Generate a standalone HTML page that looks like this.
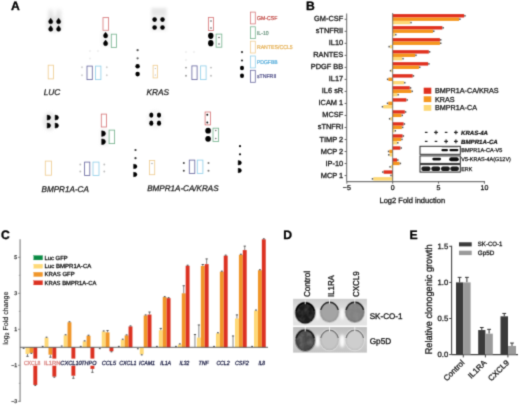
<!DOCTYPE html><html><head><meta charset="utf-8"><title>Figure</title><style>html,body{margin:0;padding:0;background:#fff;overflow:hidden;}svg{display:block;}text{font-family:'Liberation Sans', Arial, sans-serif;text-rendering:geometricPrecision;}</style></head><body>
<svg width="520" height="405" viewBox="0 0 520 405">
<defs><filter id="blur1" x="-50%" y="-50%" width="200%" height="200%"><feGaussianBlur stdDeviation="1.6"/></filter><filter id="blur2" x="-50%" y="-50%" width="200%" height="200%"><feGaussianBlur stdDeviation="0.45"/></filter><filter id="blur4" x="-80%" y="-50%" width="260%" height="200%"><feGaussianBlur stdDeviation="1.4 2.2"/></filter><filter id="blur3" x="-50%" y="-50%" width="200%" height="200%"><feGaussianBlur stdDeviation="0.8"/></filter></defs>
<defs><filter id="gblur" x="0" y="0" width="520" height="405" filterUnits="userSpaceOnUse" color-interpolation-filters="sRGB"><feConvolveMatrix order="3" kernelMatrix="0.0225 0.105 0.0225 0.105 0.49 0.105 0.0225 0.105 0.0225" edgeMode="duplicate"/></filter></defs>
<g filter="url(#gblur)">
<rect width="520" height="405" fill="#fff"/>
<text x="10.9" y="9.5" font-size="12.2" fill="#000" text-anchor="start" font-weight="bold" font-style="normal"  stroke="#000" stroke-width="0.3">A</text>
<text x="306.1" y="9.6" font-size="12.2" fill="#000" text-anchor="start" font-weight="bold" font-style="normal"  stroke="#000" stroke-width="0.3">B</text>
<text x="0.9" y="238.9" font-size="12.2" fill="#000" text-anchor="start" font-weight="bold" font-style="normal"  stroke="#000" stroke-width="0.3">C</text>
<text x="283.3" y="238.7" font-size="12.2" fill="#000" text-anchor="start" font-weight="bold" font-style="normal"  stroke="#000" stroke-width="0.3">D</text>
<text x="409.6" y="239" font-size="12.2" fill="#000" text-anchor="start" font-weight="bold" font-style="normal"  stroke="#000" stroke-width="0.3">E</text>
<ellipse cx="54.5" cy="24.5" rx="8.5" ry="8.5" fill="#dadada" opacity="0.5" filter="url(#blur1)"/>
<rect x="48" y="10" width="5.5" height="12" fill="#c4c4c4" opacity="0.4" filter="url(#blur4)"/>
<rect x="56" y="10" width="5.5" height="12" fill="#c4c4c4" opacity="0.4" filter="url(#blur4)"/>
<path d="M 50.7 18.2 C 51.3 19.2 52.75 20.4 52.75 21.7 A 2.05 2.15 0 0 1 48.65 21.7 C 48.65 20.4 50.1 19.2 50.7 18.2 Z" fill="#000" stroke="#000" stroke-width="0.5"/>
<path d="M 50.7 25.7 C 51.3 26.7 52.75 27.9 52.75 29.2 A 2.05 2.15 0 0 1 48.65 29.2 C 48.65 27.9 50.1 26.7 50.7 25.7 Z" fill="#000" stroke="#000" stroke-width="0.5"/>
<path d="M 58.6 18.2 C 59.2 19.2 60.65 20.4 60.65 21.7 A 2.05 2.15 0 0 1 56.55 21.7 C 56.55 20.4 58 19.2 58.6 18.2 Z" fill="#000" stroke="#000" stroke-width="0.5"/>
<path d="M 58.6 25.7 C 59.2 26.7 60.65 27.9 60.65 29.2 A 2.05 2.15 0 0 1 56.55 29.2 C 56.55 27.9 58 26.7 58.6 25.7 Z" fill="#000" stroke="#000" stroke-width="0.5"/>
<rect x="103" y="17.6" width="5.6" height="12.7" fill="none" stroke="#d77a7c" stroke-width="0.85" />
<rect x="101" y="31" width="9" height="15" fill="#e6e6e6" opacity="0.4" filter="url(#blur1)"/>
<path d="M 105.6 32.3 C 106.2 33.3 107.7 34.4 107.7 35.7 A 2.1 2.21 0 0 1 103.5 35.7 C 103.5 34.4 105 33.3 105.6 32.3 Z" fill="#000" stroke="#000" stroke-width="0.5"/>
<path d="M 105.6 40.1 C 106.2 41.1 107.7 42.2 107.7 43.5 A 2.1 2.21 0 0 1 103.5 43.5 C 103.5 42.2 105 41.1 105.6 40.1 Z" fill="#000" stroke="#000" stroke-width="0.5"/>
<rect x="111.3" y="34.2" width="5.2" height="13.2" fill="none" stroke="#7ab592" stroke-width="0.85" />
<rect x="48.2" y="65.2" width="5.3" height="13.7" fill="none" stroke="#efce95" stroke-width="0.85" />
<rect x="87" y="66.1" width="5.3" height="13.5" fill="none" stroke="#6c6ca2" stroke-width="0.85" />
<rect x="95.5" y="66.1" width="5.4" height="13.5" fill="none" stroke="#95d0ea" stroke-width="0.85" />
<ellipse cx="82" cy="67.3" rx="0.95" ry="0.95" fill="#d0d0d0" />
<ellipse cx="82" cy="75.3" rx="0.95" ry="0.95" fill="#d0d0d0" />
<ellipse cx="106.8" cy="67.3" rx="0.95" ry="0.95" fill="#d0d0d0" />
<ellipse cx="106.8" cy="75.3" rx="0.95" ry="0.95" fill="#d0d0d0" />
<ellipse cx="90" cy="51" rx="0.95" ry="0.95" fill="#ececec" />
<ellipse cx="98" cy="51" rx="0.95" ry="0.95" fill="#ececec" />
<ellipse cx="90" cy="58.5" rx="0.95" ry="0.95" fill="#ececec" />
<ellipse cx="137.6" cy="50.2" rx="1.15" ry="1.15" fill="#555" />
<ellipse cx="137.6" cy="58.3" rx="1.15" ry="1.15" fill="#666" />
<ellipse cx="137.6" cy="66.2" rx="2.2" ry="2.3" fill="#000" />
<ellipse cx="137.6" cy="74.1" rx="2.2" ry="2.3" fill="#000" />
<text x="43.7" y="94.8" font-size="8.3" fill="#1a1a1a" text-anchor="start" font-weight="normal" font-style="italic"  textLength="16.6" lengthAdjust="spacingAndGlyphs" stroke="#1a1a1a" stroke-width="0.25">LUC</text>
<rect x="151" y="8" width="16" height="23" fill="#dcdcdc" opacity="0.4" filter="url(#blur1)"/>
<rect x="152" y="8" width="14" height="7" fill="#d0d0d0" opacity="0.3" filter="url(#blur1)"/>
<ellipse cx="154.6" cy="19.6" rx="2.25" ry="2.35" fill="#000" />
<ellipse cx="154.6" cy="27.5" rx="2.25" ry="2.35" fill="#000" />
<ellipse cx="162.5" cy="19.6" rx="2.25" ry="2.35" fill="#000" />
<ellipse cx="162.5" cy="27.5" rx="2.25" ry="2.35" fill="#000" />
<rect x="208.4" y="17.4" width="5.1" height="13.1" fill="none" stroke="#d77a7c" stroke-width="0.85" />
<ellipse cx="211" cy="21" rx="0.75" ry="0.75" fill="#444" />
<ellipse cx="211" cy="28" rx="0.75" ry="0.75" fill="#444" />
<ellipse cx="210.8" cy="35.8" rx="2.7" ry="3.1" fill="#000" />
<ellipse cx="210.8" cy="43.2" rx="2.7" ry="3.1" fill="#000" />
<rect x="216.1" y="34.1" width="5.7" height="13.1" fill="none" stroke="#7ab592" stroke-width="0.85" />
<ellipse cx="219" cy="37.5" rx="0.75" ry="0.75" fill="#555" />
<ellipse cx="219" cy="44" rx="0.75" ry="0.75" fill="#555" />
<rect x="153.1" y="65.3" width="4.3" height="12.6" fill="none" stroke="#efce95" stroke-width="0.85" />
<ellipse cx="155.3" cy="68.5" rx="0.6" ry="0.6" fill="#aaa" />
<ellipse cx="155.3" cy="75" rx="0.6" ry="0.6" fill="#aaa" />
<rect x="191.9" y="65.9" width="5.2" height="13.7" fill="none" stroke="#6c6ca2" stroke-width="0.85" />
<rect x="200.6" y="65.9" width="5.5" height="13.7" fill="none" stroke="#95d0ea" stroke-width="0.85" />
<ellipse cx="186" cy="67.6" rx="0.95" ry="0.95" fill="#999" />
<ellipse cx="186" cy="75.7" rx="0.95" ry="0.95" fill="#999" />
<ellipse cx="211" cy="67.6" rx="0.95" ry="0.95" fill="#bbb" />
<ellipse cx="211" cy="75.7" rx="0.95" ry="0.95" fill="#bbb" />
<ellipse cx="186" cy="52" rx="0.95" ry="0.95" fill="#ececec" />
<ellipse cx="194" cy="52" rx="0.95" ry="0.95" fill="#ececec" />
<ellipse cx="186" cy="60" rx="0.95" ry="0.95" fill="#ececec" />
<ellipse cx="242" cy="52.1" rx="1.1" ry="1.1" fill="#333" />
<ellipse cx="242" cy="60.5" rx="1.1" ry="1.1" fill="#333" />
<ellipse cx="242" cy="68" rx="2" ry="2.2" fill="#000" />
<ellipse cx="242" cy="75.7" rx="2" ry="2.2" fill="#000" />
<text x="146.5" y="94.8" font-size="8.3" fill="#1a1a1a" text-anchor="start" font-weight="normal" font-style="italic"  textLength="22.6" lengthAdjust="spacingAndGlyphs" stroke="#1a1a1a" stroke-width="0.25">KRAS</text>
<rect x="250.4" y="12.1" width="4.9" height="11.8" fill="none" stroke="#d77a7c" stroke-width="0.8" />
<text x="256.9" y="19.9" font-size="5.6" fill="#c4504c" text-anchor="start" font-weight="normal" font-style="normal"  textLength="20.4" lengthAdjust="spacingAndGlyphs" stroke="#c4504c" stroke-width="0.22">GM-CSF</text>
<rect x="250.4" y="26.8" width="4.9" height="11.8" fill="none" stroke="#7ab592" stroke-width="0.8" />
<text x="256.9" y="34.6" font-size="5.6" fill="#6a957f" text-anchor="start" font-weight="normal" font-style="normal"  textLength="11.8" lengthAdjust="spacingAndGlyphs" stroke="#6a957f" stroke-width="0.22">IL-10</text>
<rect x="250.4" y="41.2" width="4.9" height="11.8" fill="none" stroke="#efce95" stroke-width="0.8" />
<text x="256.9" y="49" font-size="5.6" fill="#e6b258" text-anchor="start" font-weight="normal" font-style="normal"  textLength="35.8" lengthAdjust="spacingAndGlyphs" stroke="#e6b258" stroke-width="0.22">RANTES/CCL5</text>
<rect x="250.4" y="56" width="4.9" height="11.9" fill="none" stroke="#95d0ea" stroke-width="0.8" />
<text x="256.9" y="63.85" font-size="5.6" fill="#5cb0dc" text-anchor="start" font-weight="normal" font-style="normal"  textLength="20.8" lengthAdjust="spacingAndGlyphs" stroke="#5cb0dc" stroke-width="0.22">PDGFBB</text>
<rect x="250.4" y="70.3" width="4.9" height="12" fill="none" stroke="#6c6ca2" stroke-width="0.8" />
<text x="256.9" y="78.2" font-size="5.6" fill="#4f4f88" text-anchor="start" font-weight="normal" font-style="normal"  textLength="19.4" lengthAdjust="spacingAndGlyphs" stroke="#4f4f88" stroke-width="0.22">sTNFRII</text>
<ellipse cx="49.5" cy="121.5" rx="6.5" ry="9.5" fill="#d8d8d8" opacity="0.5" filter="url(#blur1)"/>
<path d="M 47.2 115.1 A 3.4 2.5 0 0 1 47.2 120.1 Z" fill="#000" stroke="#000" stroke-width="0.5"/>
<path d="M 47.2 123.1 A 3.4 2.5 0 0 1 47.2 128.1 Z" fill="#000" stroke="#000" stroke-width="0.5"/>
<path d="M 55.1 115.1 A 3.4 2.5 0 0 1 55.1 120.1 Z" fill="#000" stroke="#000" stroke-width="0.5"/>
<path d="M 55.1 123.1 A 3.4 2.5 0 0 1 55.1 128.1 Z" fill="#000" stroke="#000" stroke-width="0.5"/>
<rect x="101.3" y="114.1" width="5.2" height="12.9" fill="none" stroke="#d77a7c" stroke-width="0.85" />
<rect x="100" y="129" width="8" height="17" fill="#e4e4e4" opacity="0.4" filter="url(#blur1)"/>
<path d="M 101.7 130.8 A 3.8 2.8 0 0 1 101.7 136.4 Z" fill="#000" stroke="#000" stroke-width="0.5"/>
<path d="M 101.7 138.9 A 3.8 2.8 0 0 1 101.7 144.5 Z" fill="#000" stroke="#000" stroke-width="0.5"/>
<rect x="109.1" y="130.1" width="5.5" height="13.5" fill="none" stroke="#7ab592" stroke-width="0.85" />
<rect x="45.3" y="161.1" width="6.2" height="14.1" fill="none" stroke="#efce95" stroke-width="0.85" />
<rect x="84.6" y="162.1" width="5.2" height="13.4" fill="none" stroke="#6c6ca2" stroke-width="0.85" />
<rect x="93" y="162.1" width="6" height="13.4" fill="none" stroke="#95d0ea" stroke-width="0.85" />
<ellipse cx="80.3" cy="164.5" rx="0.95" ry="0.95" fill="#bdbdbd" />
<ellipse cx="80.3" cy="171.5" rx="0.95" ry="0.95" fill="#bdbdbd" />
<ellipse cx="104.3" cy="164.5" rx="0.95" ry="0.95" fill="#bdbdbd" />
<ellipse cx="104.3" cy="171.5" rx="0.95" ry="0.95" fill="#bdbdbd" />
<ellipse cx="135.5" cy="150" rx="1.1" ry="1.1" fill="#333" />
<ellipse cx="135.5" cy="158.2" rx="1.1" ry="1.1" fill="#333" />
<path d="M 133.65 164.2 A 3.3 2.2 0 0 1 133.65 168.6 Z" fill="#000" stroke="#000" stroke-width="0.5"/>
<path d="M 133.65 172.3 A 3.3 2.2 0 0 1 133.65 176.7 Z" fill="#000" stroke="#000" stroke-width="0.5"/>
<text x="41.5" y="192" font-size="8.2" fill="#1a1a1a" text-anchor="start" font-weight="normal" font-style="italic"  textLength="47.4" lengthAdjust="spacingAndGlyphs" stroke="#1a1a1a" stroke-width="0.25">BMPR1A-CA</text>
<ellipse cx="155.2" cy="119.2" rx="8.5" ry="9.5" fill="#e8e8e8" opacity="0.4" filter="url(#blur1)"/>
<ellipse cx="151.3" cy="115.1" rx="2.05" ry="2.6" fill="#000" />
<ellipse cx="151.3" cy="123.2" rx="2.05" ry="2.6" fill="#000" />
<ellipse cx="159" cy="115.1" rx="2.05" ry="2.6" fill="#000" />
<ellipse cx="159" cy="123.2" rx="2.05" ry="2.6" fill="#000" />
<rect x="205.1" y="112" width="5.4" height="12.9" fill="none" stroke="#d77a7c" stroke-width="0.85" />
<ellipse cx="207.3" cy="114.8" rx="0.95" ry="0.95" fill="#111" />
<ellipse cx="207.3" cy="122.5" rx="0.95" ry="0.95" fill="#111" />
<ellipse cx="208.1" cy="130.7" rx="2.8" ry="2.9" fill="#000" />
<ellipse cx="208.1" cy="138.8" rx="2.8" ry="2.9" fill="#000" />
<rect x="213" y="128.2" width="5.6" height="13.3" fill="none" stroke="#7ab592" stroke-width="0.85" />
<ellipse cx="215.8" cy="130.5" rx="0.7" ry="0.7" fill="#666" />
<ellipse cx="215.8" cy="138.5" rx="0.7" ry="0.7" fill="#666" />
<rect x="149.4" y="160.5" width="5.3" height="14.2" fill="none" stroke="#efce95" stroke-width="0.85" />
<ellipse cx="152" cy="163.5" rx="0.65" ry="0.65" fill="#999" />
<rect x="189.3" y="160.1" width="5.5" height="13.3" fill="none" stroke="#6c6ca2" stroke-width="0.85" />
<rect x="197.3" y="160.1" width="5.6" height="13.3" fill="none" stroke="#95d0ea" stroke-width="0.85" />
<ellipse cx="183.8" cy="163" rx="1" ry="1" fill="#444" />
<ellipse cx="183.8" cy="170.8" rx="1" ry="1" fill="#444" />
<ellipse cx="208.5" cy="163" rx="1" ry="1" fill="#777" />
<ellipse cx="208.5" cy="170.8" rx="1" ry="1" fill="#777" />
<ellipse cx="240" cy="146.2" rx="1.1" ry="1.1" fill="#111" />
<ellipse cx="240" cy="154.3" rx="1.1" ry="1.1" fill="#111" />
<path d="M 238.2 160.6 A 3.2 2.2 0 0 1 238.2 165 Z" fill="#000" stroke="#000" stroke-width="0.5"/>
<path d="M 238.2 168.3 A 3.2 2.2 0 0 1 238.2 172.7 Z" fill="#000" stroke="#000" stroke-width="0.5"/>
<text x="147.2" y="191" font-size="8.1" fill="#1a1a1a" text-anchor="start" font-weight="normal" font-style="italic"  textLength="71.4" lengthAdjust="spacingAndGlyphs" stroke="#1a1a1a" stroke-width="0.25">BMPR1A-CA/KRAS</text>
<line x1="344.6" y1="19.3" x2="346.7" y2="19.3" stroke="#555" stroke-width="0.9" />
<text x="343.2" y="21.3" font-size="7.4" fill="#1a1a1a" text-anchor="end" font-weight="normal" font-style="normal"  stroke="#1a1a1a" stroke-width="0.32">GM-CSF</text>
<rect x="392.7" y="14.1" width="71.43" height="3.4" fill="#e0301e" />
<rect x="464.23" y="15" width="1.4" height="1.6" fill="#555" />
<rect x="392.7" y="17.5" width="66.39" height="3.4" fill="#f5961e" />
<rect x="459.19" y="18.4" width="1.4" height="1.6" fill="#555" />
<rect x="392.7" y="20.9" width="17.51" height="3.4" fill="#fdd876" />
<rect x="410.31" y="21.8" width="1.4" height="1.6" fill="#555" />
<line x1="344.6" y1="31.32" x2="346.7" y2="31.32" stroke="#555" stroke-width="0.9" />
<text x="343.2" y="33.32" font-size="7.4" fill="#1a1a1a" text-anchor="end" font-weight="normal" font-style="normal"  stroke="#1a1a1a" stroke-width="0.32">sTNFRII</text>
<rect x="392.7" y="26.12" width="49.7" height="3.4" fill="#e0301e" />
<rect x="442.5" y="27.02" width="1.4" height="1.6" fill="#555" />
<rect x="392.7" y="29.52" width="40.26" height="3.4" fill="#f5961e" />
<rect x="433.06" y="30.42" width="1.4" height="1.6" fill="#555" />
<rect x="392.7" y="32.92" width="2.29" height="3.4" fill="#fdd876" />
<rect x="395.09" y="33.82" width="1.4" height="1.6" fill="#555" />
<line x1="344.6" y1="43.34" x2="346.7" y2="43.34" stroke="#555" stroke-width="0.9" />
<text x="343.2" y="45.34" font-size="7.4" fill="#1a1a1a" text-anchor="end" font-weight="normal" font-style="normal"  stroke="#1a1a1a" stroke-width="0.32">IL10</text>
<rect x="392.7" y="38.14" width="47.23" height="3.4" fill="#e0301e" />
<rect x="440.03" y="39.04" width="1.4" height="1.6" fill="#555" />
<rect x="392.7" y="41.54" width="47.23" height="3.4" fill="#f5961e" />
<rect x="440.03" y="42.44" width="1.4" height="1.6" fill="#555" />
<rect x="389.95" y="44.94" width="2.75" height="3.4" fill="#fdd876" />
<rect x="388.45" y="45.84" width="1.4" height="1.6" fill="#555" />
<line x1="344.6" y1="55.36" x2="346.7" y2="55.36" stroke="#555" stroke-width="0.9" />
<text x="343.2" y="57.36" font-size="7.4" fill="#1a1a1a" text-anchor="end" font-weight="normal" font-style="normal"  stroke="#1a1a1a" stroke-width="0.32">RANTES</text>
<rect x="392.7" y="50.16" width="36.13" height="3.4" fill="#e0301e" />
<rect x="428.93" y="51.06" width="1.4" height="1.6" fill="#555" />
<rect x="392.7" y="53.56" width="22.47" height="3.4" fill="#f5961e" />
<rect x="415.27" y="54.46" width="1.4" height="1.6" fill="#555" />
<rect x="392.7" y="56.96" width="9.54" height="3.4" fill="#fdd876" />
<rect x="402.34" y="57.86" width="1.4" height="1.6" fill="#555" />
<line x1="344.6" y1="67.38" x2="346.7" y2="67.38" stroke="#555" stroke-width="0.9" />
<text x="343.2" y="69.38" font-size="7.4" fill="#1a1a1a" text-anchor="end" font-weight="normal" font-style="normal"  stroke="#1a1a1a" stroke-width="0.32">PDGF BB</text>
<rect x="392.7" y="62.18" width="35.4" height="3.4" fill="#e0301e" />
<rect x="428.2" y="63.08" width="1.4" height="1.6" fill="#555" />
<rect x="392.7" y="65.58" width="26.23" height="3.4" fill="#f5961e" />
<rect x="419.03" y="66.48" width="1.4" height="1.6" fill="#555" />
<rect x="391.32" y="68.98" width="1.38" height="3.4" fill="#fdd876" />
<rect x="389.82" y="69.88" width="1.4" height="1.6" fill="#555" />
<line x1="344.6" y1="79.4" x2="346.7" y2="79.4" stroke="#555" stroke-width="0.9" />
<text x="343.2" y="81.4" font-size="7.4" fill="#1a1a1a" text-anchor="end" font-weight="normal" font-style="normal"  stroke="#1a1a1a" stroke-width="0.32">IL17</text>
<rect x="392.7" y="74.2" width="19.99" height="3.4" fill="#e0301e" />
<rect x="412.79" y="75.1" width="1.4" height="1.6" fill="#555" />
<rect x="388.39" y="77.6" width="4.31" height="3.4" fill="#f5961e" />
<rect x="386.89" y="78.5" width="1.4" height="1.6" fill="#555" />
<rect x="392.7" y="81" width="11.28" height="3.4" fill="#fdd876" />
<rect x="404.08" y="81.9" width="1.4" height="1.6" fill="#555" />
<line x1="344.6" y1="91.42" x2="346.7" y2="91.42" stroke="#555" stroke-width="0.9" />
<text x="343.2" y="93.42" font-size="7.4" fill="#1a1a1a" text-anchor="end" font-weight="normal" font-style="normal"  stroke="#1a1a1a" stroke-width="0.32">IL6 sR</text>
<rect x="392.7" y="86.22" width="17.06" height="3.4" fill="#e0301e" />
<rect x="409.86" y="87.12" width="1.4" height="1.6" fill="#555" />
<rect x="392.7" y="89.62" width="18.71" height="3.4" fill="#f5961e" />
<rect x="411.51" y="90.52" width="1.4" height="1.6" fill="#555" />
<rect x="392.7" y="93.02" width="4.68" height="3.4" fill="#fdd876" />
<rect x="397.48" y="93.92" width="1.4" height="1.6" fill="#555" />
<line x1="344.6" y1="103.44" x2="346.7" y2="103.44" stroke="#555" stroke-width="0.9" />
<text x="343.2" y="105.44" font-size="7.4" fill="#1a1a1a" text-anchor="end" font-weight="normal" font-style="normal"  stroke="#1a1a1a" stroke-width="0.32">ICAM 1</text>
<rect x="392.7" y="98.24" width="13.66" height="3.4" fill="#e0301e" />
<rect x="406.46" y="99.14" width="1.4" height="1.6" fill="#555" />
<rect x="388.3" y="101.64" width="4.4" height="3.4" fill="#f5961e" />
<rect x="386.8" y="102.54" width="1.4" height="1.6" fill="#555" />
<rect x="383.25" y="105.04" width="9.45" height="3.4" fill="#fdd876" />
<rect x="381.75" y="105.94" width="1.4" height="1.6" fill="#555" />
<line x1="344.6" y1="115.46" x2="346.7" y2="115.46" stroke="#555" stroke-width="0.9" />
<text x="343.2" y="117.46" font-size="7.4" fill="#1a1a1a" text-anchor="end" font-weight="normal" font-style="normal"  stroke="#1a1a1a" stroke-width="0.32">MCSF</text>
<rect x="392.7" y="110.26" width="12.1" height="3.4" fill="#e0301e" />
<rect x="404.9" y="111.16" width="1.4" height="1.6" fill="#555" />
<rect x="392.7" y="113.66" width="8.8" height="3.4" fill="#f5961e" />
<rect x="401.6" y="114.56" width="1.4" height="1.6" fill="#555" />
<rect x="390.41" y="117.06" width="2.29" height="3.4" fill="#fdd876" />
<rect x="388.91" y="117.96" width="1.4" height="1.6" fill="#555" />
<line x1="344.6" y1="127.48" x2="346.7" y2="127.48" stroke="#555" stroke-width="0.9" />
<text x="343.2" y="129.48" font-size="7.4" fill="#1a1a1a" text-anchor="end" font-weight="normal" font-style="normal"  stroke="#1a1a1a" stroke-width="0.32">sTNFRI</text>
<rect x="392.7" y="122.28" width="10.91" height="3.4" fill="#e0301e" />
<rect x="403.71" y="123.18" width="1.4" height="1.6" fill="#555" />
<rect x="392.7" y="125.68" width="9.17" height="3.4" fill="#f5961e" />
<rect x="401.97" y="126.58" width="1.4" height="1.6" fill="#555" />
<rect x="392.7" y="129.08" width="1.83" height="3.4" fill="#fdd876" />
<rect x="394.63" y="129.98" width="1.4" height="1.6" fill="#555" />
<line x1="344.6" y1="139.5" x2="346.7" y2="139.5" stroke="#555" stroke-width="0.9" />
<text x="343.2" y="141.5" font-size="7.4" fill="#1a1a1a" text-anchor="end" font-weight="normal" font-style="normal"  stroke="#1a1a1a" stroke-width="0.32">TIMP 2</text>
<rect x="392.7" y="134.3" width="9.9" height="3.4" fill="#e0301e" />
<rect x="402.7" y="135.2" width="1.4" height="1.6" fill="#555" />
<rect x="392.7" y="137.7" width="8.44" height="3.4" fill="#f5961e" />
<rect x="401.24" y="138.6" width="1.4" height="1.6" fill="#555" />
<rect x="392.7" y="141.1" width="4.31" height="3.4" fill="#fdd876" />
<rect x="397.11" y="142" width="1.4" height="1.6" fill="#555" />
<line x1="344.6" y1="151.52" x2="346.7" y2="151.52" stroke="#555" stroke-width="0.9" />
<text x="343.2" y="153.52" font-size="7.4" fill="#1a1a1a" text-anchor="end" font-weight="normal" font-style="normal"  stroke="#1a1a1a" stroke-width="0.32">MCP 2</text>
<rect x="392.7" y="146.32" width="7.7" height="3.4" fill="#e0301e" />
<rect x="400.5" y="147.22" width="1.4" height="1.6" fill="#555" />
<rect x="389.31" y="149.72" width="3.39" height="3.4" fill="#f5961e" />
<rect x="387.81" y="150.62" width="1.4" height="1.6" fill="#555" />
<rect x="389.58" y="153.12" width="3.12" height="3.4" fill="#fdd876" />
<rect x="388.08" y="154.02" width="1.4" height="1.6" fill="#555" />
<line x1="344.6" y1="163.54" x2="346.7" y2="163.54" stroke="#555" stroke-width="0.9" />
<text x="343.2" y="165.54" font-size="7.4" fill="#1a1a1a" text-anchor="end" font-weight="normal" font-style="normal"  stroke="#1a1a1a" stroke-width="0.32">IP-10</text>
<rect x="392.7" y="158.34" width="4.31" height="3.4" fill="#e0301e" />
<rect x="397.11" y="159.24" width="1.4" height="1.6" fill="#555" />
<rect x="392.7" y="161.74" width="6.88" height="3.4" fill="#f5961e" />
<rect x="399.68" y="162.64" width="1.4" height="1.6" fill="#555" />
<rect x="390.87" y="165.14" width="1.83" height="3.4" fill="#fdd876" />
<rect x="389.37" y="166.04" width="1.4" height="1.6" fill="#555" />
<line x1="344.6" y1="175.56" x2="346.7" y2="175.56" stroke="#555" stroke-width="0.9" />
<text x="343.2" y="177.56" font-size="7.4" fill="#1a1a1a" text-anchor="end" font-weight="normal" font-style="normal"  stroke="#1a1a1a" stroke-width="0.32">MCP 1</text>
<rect x="383.62" y="170.36" width="9.08" height="3.4" fill="#e0301e" />
<rect x="382.12" y="171.26" width="1.4" height="1.6" fill="#555" />
<rect x="391.78" y="173.76" width="0.92" height="3.4" fill="#f5961e" />
<rect x="390.28" y="174.66" width="1.4" height="1.6" fill="#555" />
<rect x="373.26" y="177.16" width="19.44" height="3.4" fill="#fdd876" />
<rect x="371.76" y="178.06" width="1.4" height="1.6" fill="#555" />
<line x1="346.7" y1="13.5" x2="346.7" y2="181.7" stroke="#666" stroke-width="1" />
<line x1="346.7" y1="181.7" x2="485" y2="181.7" stroke="#555" stroke-width="1" />
<line x1="392.7" y1="13" x2="392.7" y2="181.7" stroke="#555" stroke-width="0.8" />
<line x1="346.85" y1="181.7" x2="346.85" y2="183.7" stroke="#444" stroke-width="0.8" />
<text x="346.85" y="189.9" font-size="7" fill="#1a1a1a" text-anchor="middle" font-weight="normal" font-style="normal"  stroke="#1a1a1a" stroke-width="0.3">&#8722;5</text>
<line x1="392.7" y1="181.7" x2="392.7" y2="183.7" stroke="#444" stroke-width="0.8" />
<text x="392.7" y="189.9" font-size="7" fill="#1a1a1a" text-anchor="middle" font-weight="normal" font-style="normal"  stroke="#1a1a1a" stroke-width="0.3">0</text>
<line x1="438.55" y1="181.7" x2="438.55" y2="183.7" stroke="#444" stroke-width="0.8" />
<text x="438.55" y="189.9" font-size="7" fill="#1a1a1a" text-anchor="middle" font-weight="normal" font-style="normal"  stroke="#1a1a1a" stroke-width="0.3">5</text>
<line x1="484.4" y1="181.7" x2="484.4" y2="183.7" stroke="#444" stroke-width="0.8" />
<text x="484.4" y="189.9" font-size="7" fill="#1a1a1a" text-anchor="middle" font-weight="normal" font-style="normal"  stroke="#1a1a1a" stroke-width="0.3">10</text>
<text x="379.5" y="203.2" font-size="7.6" fill="#1a1a1a" text-anchor="start" font-weight="normal" font-style="normal"  textLength="65.6" lengthAdjust="spacingAndGlyphs" stroke="#1a1a1a" stroke-width="0.3">Log2 Fold induction</text>
<rect x="423.7" y="87.7" width="7.6" height="6.1" fill="#e0301e" />
<text x="435" y="93.25" font-size="7.2" fill="#1a1a1a" text-anchor="start" font-weight="normal" font-style="normal"  stroke="#1a1a1a" stroke-width="0.3">BMPR1A-CA/KRAS</text>
<rect x="423.7" y="96.3" width="7.6" height="5.8" fill="#f5961e" />
<text x="435" y="101.7" font-size="7.2" fill="#1a1a1a" text-anchor="start" font-weight="normal" font-style="normal"  stroke="#1a1a1a" stroke-width="0.3">KRAS</text>
<rect x="423.7" y="105" width="7.6" height="5.8" fill="#fdd876" />
<text x="435" y="110.4" font-size="7.2" fill="#1a1a1a" text-anchor="start" font-weight="normal" font-style="normal"  stroke="#1a1a1a" stroke-width="0.3">BMPR1A-CA</text>
<rect x="424.9" y="131.8" width="2.6" height="1.2" fill="#222" />
<rect x="424.9" y="140.8" width="2.6" height="1.2" fill="#222" />
<rect x="434.1" y="131.8" width="3.8" height="1.2" fill="#222" />
<rect x="435.4" y="130.5" width="1.2" height="3.8" fill="#222" />
<rect x="434.7" y="140.8" width="2.6" height="1.2" fill="#222" />
<rect x="444.8" y="131.8" width="2.6" height="1.2" fill="#222" />
<rect x="444.2" y="140.8" width="3.8" height="1.2" fill="#222" />
<rect x="445.5" y="139.5" width="1.2" height="3.8" fill="#222" />
<rect x="454" y="131.8" width="3.8" height="1.2" fill="#222" />
<rect x="455.3" y="130.5" width="1.2" height="3.8" fill="#222" />
<rect x="454" y="140.8" width="3.8" height="1.2" fill="#222" />
<rect x="455.3" y="139.5" width="1.2" height="3.8" fill="#222" />
<text x="461" y="134.8" font-size="6.2" fill="#111" text-anchor="start" font-weight="bold" font-style="italic"  textLength="27" lengthAdjust="spacingAndGlyphs" stroke="#111" stroke-width="0.22">KRAS-4A</text>
<text x="461" y="143.6" font-size="6.2" fill="#111" text-anchor="start" font-weight="bold" font-style="italic"  textLength="36.8" lengthAdjust="spacingAndGlyphs" stroke="#111" stroke-width="0.22">BMPR1A-CA</text>
<rect x="420" y="146.3" width="40.3" height="8" fill="#fff" stroke="#2a2a2a" stroke-width="1.0"/>
<rect x="420" y="155.9" width="40.3" height="7.5" fill="#fff" stroke="#2a2a2a" stroke-width="1.0"/>
<rect x="420" y="164.6" width="40.3" height="7.5" fill="#fff" stroke="#2a2a2a" stroke-width="1.0"/>
<rect x="441.4" y="149" width="6.6" height="2.3" rx="1.15" fill="#111" opacity="1" filter="url(#blur2)"/>
<rect x="449.4" y="148.9" width="9" height="2.4" rx="1.2" fill="#111" opacity="1" filter="url(#blur2)"/>
<rect x="441.6" y="147.2" width="16.4" height="0.8" rx="0.4" fill="#999" opacity="0.6" filter="url(#blur2)"/>
<rect x="432.3" y="157.8" width="8.7" height="2.6" rx="1.3" fill="#111" opacity="1" filter="url(#blur2)"/>
<rect x="449.2" y="157.2" width="9.6" height="4.1" rx="2" fill="#111" opacity="1" filter="url(#blur2)"/>
<rect x="421.4" y="166.5" width="9.1" height="4.4" rx="2" fill="#1a1a1a" opacity="1" filter="url(#blur2)"/>
<rect x="431.3" y="166.5" width="8.9" height="4.4" rx="2" fill="#1a1a1a" opacity="1" filter="url(#blur2)"/>
<rect x="441" y="166.5" width="8.8" height="4.4" rx="2" fill="#1a1a1a" opacity="1" filter="url(#blur2)"/>
<rect x="450.3" y="166.5" width="8.6" height="4.4" rx="2" fill="#1a1a1a" opacity="1" filter="url(#blur2)"/>
<text x="461.3" y="152.1" font-size="5.6" fill="#1a1a1a" text-anchor="start" font-weight="normal" font-style="normal"  textLength="41" lengthAdjust="spacingAndGlyphs" stroke="#1a1a1a" stroke-width="0.25">BMPR1A-CA-V5</text>
<text x="461.3" y="161.4" font-size="5.5" fill="#1a1a1a" text-anchor="start" font-weight="normal" font-style="normal"  textLength="49.6" lengthAdjust="spacingAndGlyphs" stroke="#1a1a1a" stroke-width="0.25">V5-KRAS-4A(G12V)</text>
<text x="461.3" y="170.5" font-size="5.6" fill="#1a1a1a" text-anchor="start" font-weight="normal" font-style="normal"  textLength="11" lengthAdjust="spacingAndGlyphs" stroke="#1a1a1a" stroke-width="0.25">ERK</text>
<rect x="33.8" y="255.6" width="8.8" height="4.3" fill="#0a8a44" stroke="#0a8a44" stroke-width="0.3"/>
<text x="44.6" y="259.8" font-size="5.85" fill="#111" text-anchor="start" font-weight="normal" font-style="normal"  textLength="23" lengthAdjust="spacingAndGlyphs" stroke="#111" stroke-width="0.28">Luc GFP</text>
<rect x="33.8" y="264.2" width="8.8" height="4.1" fill="#fed978" stroke="#fed978" stroke-width="0.3"/>
<text x="44.6" y="268.2" font-size="5.85" fill="#111" text-anchor="start" font-weight="normal" font-style="normal"  textLength="46.7" lengthAdjust="spacingAndGlyphs" stroke="#111" stroke-width="0.28">Luc BMPR1A-CA</text>
<rect x="33.8" y="272.3" width="8.8" height="4.2" fill="#f0962a" stroke="#f0962a" stroke-width="0.3"/>
<text x="44.6" y="276.4" font-size="5.85" fill="#111" text-anchor="start" font-weight="normal" font-style="normal"  textLength="30.1" lengthAdjust="spacingAndGlyphs" stroke="#111" stroke-width="0.28">KRAS GFP</text>
<rect x="33.8" y="280.7" width="8.8" height="4.2" fill="#dc3222" stroke="#dc3222" stroke-width="0.3"/>
<text x="44.6" y="284.8" font-size="5.85" fill="#111" text-anchor="start" font-weight="normal" font-style="normal"  textLength="51.7" lengthAdjust="spacingAndGlyphs" stroke="#111" stroke-width="0.28">KRAS BMPR1A-CA</text>
<rect x="22.7" y="347.74" width="1.8" height="1.2" fill="#5a5a5a" />
<rect x="25.55" y="347.3" width="3.9" height="6.66" fill="#fed978" />
<line x1="27.5" y1="353.96" x2="27.5" y2="356.3" stroke="#7a7a7a" stroke-width="0.9" />
<line x1="26.4" y1="356.3" x2="28.6" y2="356.3" stroke="#555" stroke-width="1" />
<rect x="29.45" y="347.3" width="3.9" height="5.58" fill="#f0962a" />
<rect x="30.5" y="352.78" width="1.8" height="1.2" fill="#5a5a5a" />
<rect x="33.35" y="347.3" width="3.9" height="37.62" fill="#dc3222" />
<rect x="34.4" y="384.82" width="1.8" height="1.2" fill="#5a5a5a" />
<rect x="41.74" y="345.84" width="1.8" height="1.2" fill="#5a5a5a" />
<rect x="44.59" y="337.76" width="3.9" height="9.54" fill="#fed978" />
<rect x="45.64" y="336.66" width="1.8" height="1.2" fill="#5a5a5a" />
<rect x="48.49" y="347.3" width="3.9" height="7.38" fill="#f0962a" />
<line x1="50.44" y1="354.68" x2="50.44" y2="357.2" stroke="#7a7a7a" stroke-width="0.9" />
<line x1="49.34" y1="357.2" x2="51.54" y2="357.2" stroke="#555" stroke-width="1" />
<rect x="52.39" y="347.3" width="3.9" height="29.34" fill="#dc3222" />
<rect x="53.44" y="376.54" width="1.8" height="1.2" fill="#5a5a5a" />
<rect x="60.78" y="345.48" width="1.8" height="1.2" fill="#5a5a5a" />
<rect x="63.63" y="335.24" width="3.9" height="12.06" fill="#fed978" />
<rect x="64.68" y="334.14" width="1.8" height="1.2" fill="#5a5a5a" />
<rect x="67.53" y="322.28" width="3.9" height="25.02" fill="#f0962a" />
<rect x="68.58" y="321.18" width="1.8" height="1.2" fill="#5a5a5a" />
<rect x="71.43" y="347.3" width="3.9" height="28.44" fill="#dc3222" />
<line x1="73.38" y1="375.74" x2="73.38" y2="378.26" stroke="#7a7a7a" stroke-width="0.9" />
<line x1="72.28" y1="378.26" x2="74.48" y2="378.26" stroke="#555" stroke-width="1" />
<rect x="79.82" y="345.84" width="1.8" height="1.2" fill="#5a5a5a" />
<rect x="82.67" y="341.36" width="3.9" height="5.94" fill="#fed978" />
<rect x="83.72" y="340.26" width="1.8" height="1.2" fill="#5a5a5a" />
<rect x="86.57" y="335.78" width="3.9" height="11.52" fill="#f0962a" />
<rect x="87.62" y="334.68" width="1.8" height="1.2" fill="#5a5a5a" />
<rect x="90.47" y="347.3" width="3.9" height="21.6" fill="#dc3222" />
<line x1="92.42" y1="368.9" x2="92.42" y2="372.32" stroke="#7a7a7a" stroke-width="0.9" />
<line x1="91.32" y1="372.32" x2="93.52" y2="372.32" stroke="#555" stroke-width="1" />
<rect x="98.86" y="347.92" width="1.8" height="1.2" fill="#5a5a5a" />
<rect x="101.71" y="331.46" width="3.9" height="15.84" fill="#fed978" />
<rect x="102.76" y="330.36" width="1.8" height="1.2" fill="#5a5a5a" />
<rect x="105.61" y="332.36" width="3.9" height="14.94" fill="#f0962a" />
<line x1="107.56" y1="332.36" x2="107.56" y2="330.56" stroke="#7a7a7a" stroke-width="0.9" />
<line x1="106.46" y1="330.56" x2="108.66" y2="330.56" stroke="#555" stroke-width="1" />
<rect x="109.51" y="347.3" width="3.9" height="3.96" fill="#dc3222" />
<rect x="110.56" y="351.16" width="1.8" height="1.2" fill="#5a5a5a" />
<rect x="117.9" y="345.84" width="1.8" height="1.2" fill="#5a5a5a" />
<rect x="120.75" y="339.74" width="3.9" height="7.56" fill="#fed978" />
<rect x="121.8" y="338.64" width="1.8" height="1.2" fill="#5a5a5a" />
<rect x="124.65" y="335.42" width="3.9" height="11.88" fill="#f0962a" />
<rect x="125.7" y="334.32" width="1.8" height="1.2" fill="#5a5a5a" />
<rect x="128.55" y="326.42" width="3.9" height="20.88" fill="#dc3222" />
<rect x="129.6" y="325.32" width="1.8" height="1.2" fill="#5a5a5a" />
<rect x="136.94" y="348.1" width="1.8" height="1.2" fill="#5a5a5a" />
<rect x="139.79" y="347.3" width="3.9" height="7.02" fill="#fed978" />
<rect x="140.84" y="354.22" width="1.8" height="1.2" fill="#5a5a5a" />
<rect x="143.69" y="315.44" width="3.9" height="31.86" fill="#f0962a" />
<rect x="144.74" y="314.34" width="1.8" height="1.2" fill="#5a5a5a" />
<rect x="147.59" y="314.54" width="3.9" height="32.76" fill="#dc3222" />
<line x1="149.54" y1="314.54" x2="149.54" y2="312.02" stroke="#7a7a7a" stroke-width="0.9" />
<line x1="148.44" y1="312.02" x2="150.64" y2="312.02" stroke="#555" stroke-width="1" />
<rect x="155.98" y="345.84" width="1.8" height="1.2" fill="#5a5a5a" />
<rect x="158.83" y="330.2" width="3.9" height="17.1" fill="#fed978" />
<line x1="160.78" y1="330.2" x2="160.78" y2="328.4" stroke="#7a7a7a" stroke-width="0.9" />
<line x1="159.68" y1="328.4" x2="161.88" y2="328.4" stroke="#555" stroke-width="1" />
<rect x="162.73" y="297.08" width="3.9" height="50.22" fill="#f0962a" />
<rect x="163.78" y="295.98" width="1.8" height="1.2" fill="#5a5a5a" />
<rect x="166.63" y="298.16" width="3.9" height="49.14" fill="#dc3222" />
<rect x="167.68" y="297.06" width="1.8" height="1.2" fill="#5a5a5a" />
<rect x="175.02" y="345.84" width="1.8" height="1.2" fill="#5a5a5a" />
<rect x="177.87" y="344.42" width="3.9" height="2.88" fill="#fed978" />
<rect x="178.92" y="343.32" width="1.8" height="1.2" fill="#5a5a5a" />
<rect x="181.77" y="293.3" width="3.9" height="54" fill="#f0962a" />
<line x1="183.72" y1="293.3" x2="183.72" y2="285.74" stroke="#7a7a7a" stroke-width="0.9" />
<line x1="182.62" y1="285.74" x2="184.82" y2="285.74" stroke="#555" stroke-width="1" />
<rect x="185.67" y="265.76" width="3.9" height="81.54" fill="#dc3222" />
<rect x="186.72" y="264.66" width="1.8" height="1.2" fill="#5a5a5a" />
<line x1="194.96" y1="346.94" x2="194.96" y2="334.52" stroke="#7a7a7a" stroke-width="0.9" />
<line x1="193.86" y1="334.52" x2="196.06" y2="334.52" stroke="#555" stroke-width="1" />
<rect x="196.91" y="337.58" width="3.9" height="9.72" fill="#fed978" />
<line x1="198.86" y1="337.58" x2="198.86" y2="324.98" stroke="#7a7a7a" stroke-width="0.9" />
<line x1="197.76" y1="324.98" x2="199.96" y2="324.98" stroke="#555" stroke-width="1" />
<rect x="200.81" y="265.94" width="3.9" height="81.36" fill="#f0962a" />
<line x1="202.76" y1="265.94" x2="202.76" y2="264.5" stroke="#7a7a7a" stroke-width="0.9" />
<line x1="201.66" y1="264.5" x2="203.86" y2="264.5" stroke="#555" stroke-width="1" />
<rect x="204.71" y="264.14" width="3.9" height="83.16" fill="#dc3222" />
<line x1="206.66" y1="264.14" x2="206.66" y2="258.92" stroke="#7a7a7a" stroke-width="0.9" />
<line x1="205.56" y1="258.92" x2="207.76" y2="258.92" stroke="#555" stroke-width="1" />
<rect x="213.1" y="345.84" width="1.8" height="1.2" fill="#5a5a5a" />
<rect x="215.95" y="333.26" width="3.9" height="14.04" fill="#fed978" />
<rect x="217" y="332.16" width="1.8" height="1.2" fill="#5a5a5a" />
<rect x="219.85" y="271.7" width="3.9" height="75.6" fill="#f0962a" />
<rect x="220.9" y="270.6" width="1.8" height="1.2" fill="#5a5a5a" />
<rect x="223.75" y="255.68" width="3.9" height="91.62" fill="#dc3222" />
<rect x="224.8" y="254.58" width="1.8" height="1.2" fill="#5a5a5a" />
<line x1="233.04" y1="346.94" x2="233.04" y2="335.96" stroke="#7a7a7a" stroke-width="0.9" />
<line x1="231.94" y1="335.96" x2="234.14" y2="335.96" stroke="#555" stroke-width="1" />
<rect x="234.99" y="318.5" width="3.9" height="28.8" fill="#fed978" />
<line x1="236.94" y1="318.5" x2="236.94" y2="314.9" stroke="#7a7a7a" stroke-width="0.9" />
<line x1="235.84" y1="314.9" x2="238.04" y2="314.9" stroke="#555" stroke-width="1" />
<rect x="238.89" y="254.78" width="3.9" height="92.52" fill="#f0962a" />
<rect x="239.94" y="253.68" width="1.8" height="1.2" fill="#5a5a5a" />
<rect x="242.79" y="250.1" width="3.9" height="97.2" fill="#dc3222" />
<line x1="244.74" y1="250.1" x2="244.74" y2="246.14" stroke="#7a7a7a" stroke-width="0.9" />
<line x1="243.64" y1="246.14" x2="245.84" y2="246.14" stroke="#555" stroke-width="1" />
<rect x="251.18" y="345.84" width="1.8" height="1.2" fill="#5a5a5a" />
<rect x="254.03" y="310.58" width="3.9" height="36.72" fill="#fed978" />
<rect x="255.08" y="309.48" width="1.8" height="1.2" fill="#5a5a5a" />
<rect x="257.93" y="270.26" width="3.9" height="77.04" fill="#f0962a" />
<rect x="258.98" y="269.16" width="1.8" height="1.2" fill="#5a5a5a" />
<rect x="261.83" y="239.3" width="3.9" height="108" fill="#dc3222" />
<rect x="262.88" y="238.2" width="1.8" height="1.2" fill="#5a5a5a" />
<line x1="20.1" y1="239.2" x2="20.1" y2="402" stroke="#8a8a8a" stroke-width="1.2" />
<line x1="20.1" y1="347.3" x2="268" y2="347.3" stroke="#555" stroke-width="0.9" />
<line x1="18" y1="257.3" x2="20.1" y2="257.3" stroke="#777" stroke-width="0.8" />
<text x="17.3" y="259.2" font-size="5.4" fill="#333" text-anchor="end" font-weight="normal" font-style="normal"  stroke="#333" stroke-width="0.25">5</text>
<line x1="18" y1="293.3" x2="20.1" y2="293.3" stroke="#777" stroke-width="0.8" />
<text x="17.3" y="295.2" font-size="5.4" fill="#333" text-anchor="end" font-weight="normal" font-style="normal"  stroke="#333" stroke-width="0.25">3</text>
<line x1="18" y1="329.3" x2="20.1" y2="329.3" stroke="#777" stroke-width="0.8" />
<text x="17.3" y="331.2" font-size="5.4" fill="#333" text-anchor="end" font-weight="normal" font-style="normal"  stroke="#333" stroke-width="0.25">1</text>
<line x1="18" y1="365.3" x2="20.1" y2="365.3" stroke="#777" stroke-width="0.8" />
<text x="17.3" y="367.2" font-size="5.4" fill="#333" text-anchor="end" font-weight="normal" font-style="normal"  stroke="#333" stroke-width="0.25">&#8722;1</text>
<line x1="18" y1="401.3" x2="20.1" y2="401.3" stroke="#777" stroke-width="0.8" />
<text x="17.3" y="403.2" font-size="5.4" fill="#333" text-anchor="end" font-weight="normal" font-style="normal"  stroke="#333" stroke-width="0.25">&#8722;3</text>
<line x1="18.8" y1="275.3" x2="20.1" y2="275.3" stroke="#888" stroke-width="0.7" />
<line x1="18.8" y1="311.3" x2="20.1" y2="311.3" stroke="#888" stroke-width="0.7" />
<line x1="18.8" y1="383.3" x2="20.1" y2="383.3" stroke="#888" stroke-width="0.7" />
<rect x="22" y="358.6" width="78" height="7.1" fill="#fff" />
<text x="23.9" y="364.5" font-size="5.9" fill="#d98480" text-anchor="start" font-weight="normal" font-style="normal"  textLength="16.6" lengthAdjust="spacingAndGlyphs" stroke="#d98480" stroke-width="0.3">CXCL8</text>
<text x="43.9" y="364.5" font-size="5.9" fill="#d98480" text-anchor="start" font-weight="normal" font-style="normal"  textLength="16.6" lengthAdjust="spacingAndGlyphs" stroke="#d98480" stroke-width="0.3">IL1RN</text>
<text x="60.3" y="364.6" font-size="6" fill="#1c1f45" text-anchor="start" font-weight="normal" font-style="italic"  textLength="21.4" lengthAdjust="spacingAndGlyphs" stroke="#1c1f45" stroke-width="0.3">CXCL10</text>
<text x="81.2" y="364.6" font-size="6" fill="#1c1f45" text-anchor="start" font-weight="normal" font-style="italic"  textLength="15.2" lengthAdjust="spacingAndGlyphs" stroke="#1c1f45" stroke-width="0.3">THPO</text>
<text x="101.8" y="364.6" font-size="6" fill="#1c1f45" text-anchor="start" font-weight="normal" font-style="italic"  textLength="14.2" lengthAdjust="spacingAndGlyphs" stroke="#1c1f45" stroke-width="0.3">CCL5</text>
<text x="119.2" y="364.6" font-size="6" fill="#1c1f45" text-anchor="start" font-weight="normal" font-style="italic"  textLength="17.2" lengthAdjust="spacingAndGlyphs" stroke="#1c1f45" stroke-width="0.3">CXCL1</text>
<text x="139" y="364.6" font-size="6" fill="#1c1f45" text-anchor="start" font-weight="normal" font-style="italic"  textLength="16" lengthAdjust="spacingAndGlyphs" stroke="#1c1f45" stroke-width="0.3">ICAM1</text>
<text x="160.3" y="364.6" font-size="6" fill="#1c1f45" text-anchor="start" font-weight="normal" font-style="italic"  textLength="10.8" lengthAdjust="spacingAndGlyphs" stroke="#1c1f45" stroke-width="0.3">IL1A</text>
<text x="179.6" y="364.6" font-size="6" fill="#1c1f45" text-anchor="start" font-weight="normal" font-style="italic"  textLength="9.6" lengthAdjust="spacingAndGlyphs" stroke="#1c1f45" stroke-width="0.3">IL32</text>
<text x="198.5" y="364.6" font-size="6" fill="#1c1f45" text-anchor="start" font-weight="normal" font-style="italic"  textLength="10.3" lengthAdjust="spacingAndGlyphs" stroke="#1c1f45" stroke-width="0.3">TNF</text>
<text x="216.4" y="364.6" font-size="6" fill="#1c1f45" text-anchor="start" font-weight="normal" font-style="italic"  textLength="13.2" lengthAdjust="spacingAndGlyphs" stroke="#1c1f45" stroke-width="0.3">CCL2</text>
<text x="235" y="364.6" font-size="6" fill="#1c1f45" text-anchor="start" font-weight="normal" font-style="italic"  textLength="13.7" lengthAdjust="spacingAndGlyphs" stroke="#1c1f45" stroke-width="0.3">CSF2</text>
<text x="258.4" y="364.6" font-size="6" fill="#1c1f45" text-anchor="start" font-weight="normal" font-style="italic"  textLength="6.6" lengthAdjust="spacingAndGlyphs" stroke="#1c1f45" stroke-width="0.3">IL8</text>
<text transform="translate(7.5,318.2) rotate(-90)" font-size="7.1" fill="#1a1a1a" stroke="#1a1a1a" stroke-width="0.15" text-anchor="middle">log<tspan font-size="5" dy="1.8">2</tspan><tspan dy="-1.8"> Fold change</tspan></text>
<text transform="translate(309.8,297.1) rotate(-90)" font-size="8.6" fill="#111" stroke="#111" stroke-width="0.3" textLength="26.2" lengthAdjust="spacingAndGlyphs">Control</text>
<text transform="translate(334.1,297.1) rotate(-90)" font-size="8.6" fill="#111" stroke="#111" stroke-width="0.3" textLength="22" lengthAdjust="spacingAndGlyphs">IL1RA</text>
<text transform="translate(359.3,297.1) rotate(-90)" font-size="8.6" fill="#111" stroke="#111" stroke-width="0.3" textLength="25.8" lengthAdjust="spacingAndGlyphs">CXCL9</text>
<defs><linearGradient id="bg1" x1="0" y1="0" x2="0" y2="1"><stop offset="0" stop-color="#cdcdcd"/><stop offset="0.5" stop-color="#e0e0e0"/><stop offset="1" stop-color="#e4e4e4"/></linearGradient><linearGradient id="bg2" x1="0" y1="0" x2="0" y2="1"><stop offset="0" stop-color="#bcbcbc"/><stop offset="0.5" stop-color="#d0d0d0"/><stop offset="1" stop-color="#c4c4c4"/></linearGradient></defs>
<rect x="293.1" y="298.8" width="73.8" height="26.8" fill="url(#bg1)" />
<rect x="293.1" y="327.1" width="73.8" height="25.5" fill="url(#bg2)" />
<ellipse cx="317.6" cy="314" rx="2.2" ry="6" fill="#fafafa" opacity="0.9" filter="url(#blur3)"/>
<ellipse cx="342.2" cy="314" rx="2.2" ry="6" fill="#fafafa" opacity="0.9" filter="url(#blur3)"/>
<ellipse cx="317.6" cy="341" rx="2.4" ry="6" fill="#fafafa" opacity="1.0" filter="url(#blur3)"/>
<ellipse cx="342.2" cy="341" rx="2.6" ry="6.5" fill="#fafafa" opacity="1.0" filter="url(#blur3)"/>
<ellipse cx="296" cy="313" rx="1.5" ry="8" fill="#fafafa" opacity="0.5" filter="url(#blur3)"/>
<ellipse cx="365" cy="313" rx="1.5" ry="8" fill="#fafafa" opacity="0.5" filter="url(#blur3)"/>
<defs><radialGradient id="pg305312" cx="0.5" cy="0.5" r="0.5"><stop offset="0" stop-color="#1f1f1f"/><stop offset="0.75" stop-color="#1f1f1f"/><stop offset="1" stop-color="#121212"/></radialGradient></defs>
<ellipse cx="305.2" cy="312.8" rx="10.6" ry="11.4" fill="#8c8c8c" filter="url(#blur2)"/>
<ellipse cx="305.2" cy="312.8" rx="9.7" ry="10.5" fill="url(#pg305312)" filter="url(#blur2)"/>
<path d="M 296.1 310.8 A 9.3 10.1 0 0 1 314.3 310.8" fill="none" stroke="#000" stroke-width="1.3" filter="url(#blur2)"/>
<rect x="304.7" y="299.8" width="1" height="4.4" fill="#ececec" filter="url(#blur2)"/>
<defs><radialGradient id="pg329312" cx="0.5" cy="0.5" r="0.5"><stop offset="0" stop-color="#a4a4a4"/><stop offset="0.75" stop-color="#a4a4a4"/><stop offset="1" stop-color="#969696"/></radialGradient></defs>
<ellipse cx="329.5" cy="312" rx="10.2" ry="11.1" fill="#c8c8c8" filter="url(#blur2)"/>
<ellipse cx="329.5" cy="312" rx="9.3" ry="10.2" fill="url(#pg329312)" filter="url(#blur2)"/>
<path d="M 320.8 310 A 8.9 9.8 0 0 1 338.2 310" fill="none" stroke="#2a2a2a" stroke-width="1.3" filter="url(#blur2)"/>
<rect x="329" y="299.3" width="1" height="4.4" fill="#ececec" filter="url(#blur2)"/>
<defs><radialGradient id="pg354312" cx="0.5" cy="0.5" r="0.5"><stop offset="0" stop-color="#828282"/><stop offset="0.75" stop-color="#828282"/><stop offset="1" stop-color="#747474"/></radialGradient></defs>
<ellipse cx="354.8" cy="312" rx="10.2" ry="11.1" fill="#b0b0b0" filter="url(#blur2)"/>
<ellipse cx="354.8" cy="312" rx="9.3" ry="10.2" fill="url(#pg354312)" filter="url(#blur2)"/>
<path d="M 346.1 310 A 8.9 9.8 0 0 1 363.5 310" fill="none" stroke="#222" stroke-width="1.3" filter="url(#blur2)"/>
<rect x="354.3" y="299.3" width="1" height="4.4" fill="#ececec" filter="url(#blur2)"/>
<defs><radialGradient id="pg305340" cx="0.5" cy="0.5" r="0.5"><stop offset="0" stop-color="#4a4a4a"/><stop offset="0.75" stop-color="#4a4a4a"/><stop offset="1" stop-color="#363636"/></radialGradient></defs>
<ellipse cx="305.2" cy="340.2" rx="10.4" ry="11.6" fill="#8a8a8a" filter="url(#blur2)"/>
<ellipse cx="305.2" cy="340.2" rx="9.5" ry="10.7" fill="url(#pg305340)" filter="url(#blur2)"/>
<path d="M 296.3 338.2 A 9.1 10.3 0 0 1 314.1 338.2" fill="none" stroke="#1a1a1a" stroke-width="1.3" filter="url(#blur2)"/>
<rect x="304.7" y="327" width="1" height="4.4" fill="#ececec" filter="url(#blur2)"/>
<defs><radialGradient id="pg329340" cx="0.5" cy="0.5" r="0.5"><stop offset="0" stop-color="#c6c6c6"/><stop offset="0.75" stop-color="#c6c6c6"/><stop offset="1" stop-color="#b6b6b6"/></radialGradient></defs>
<ellipse cx="329.5" cy="340" rx="10.2" ry="11.2" fill="#d8d8d8" filter="url(#blur2)"/>
<ellipse cx="329.5" cy="340" rx="9.3" ry="10.3" fill="url(#pg329340)" filter="url(#blur2)"/>
<path d="M 320.8 338 A 8.9 9.9 0 0 1 338.2 338" fill="none" stroke="#777" stroke-width="1.3" filter="url(#blur2)"/>
<rect x="329" y="327.2" width="1" height="4.4" fill="#ececec" filter="url(#blur2)"/>
<defs><radialGradient id="pg354340" cx="0.5" cy="0.5" r="0.5"><stop offset="0" stop-color="#cecece"/><stop offset="0.75" stop-color="#cecece"/><stop offset="1" stop-color="#c0c0c0"/></radialGradient></defs>
<ellipse cx="354.8" cy="340" rx="10.2" ry="11.2" fill="#dcdcdc" filter="url(#blur2)"/>
<ellipse cx="354.8" cy="340" rx="9.3" ry="10.3" fill="url(#pg354340)" filter="url(#blur2)"/>
<path d="M 346.1 338 A 8.9 9.9 0 0 1 363.5 338" fill="none" stroke="#7a7a7a" stroke-width="1.3" filter="url(#blur2)"/>
<rect x="354.3" y="327.2" width="1" height="4.4" fill="#ececec" filter="url(#blur2)"/>
<defs><filter id="mottle" x="0" y="0" width="100%" height="100%"><feTurbulence type="fractalNoise" baseFrequency="0.22" numOctaves="2" seed="7" result="n"/><feColorMatrix in="n" type="matrix" values="0 0 0 0 0.55  0 0 0 0 0.55  0 0 0 0 0.55  0 0 0 1.6 -0.55" result="g"/><feComposite in="g" in2="SourceGraphic" operator="in"/></filter></defs>
<ellipse cx="305.2" cy="313.2" rx="8.6" ry="9.4" fill="#000" opacity="0.22" filter="url(#mottle)"/>
<ellipse cx="305.2" cy="340.6" rx="8.6" ry="9.6" fill="#000" opacity="0.3" filter="url(#mottle)"/>
<ellipse cx="354.8" cy="312.5" rx="8.4" ry="9.2" fill="#000" opacity="0.2" filter="url(#mottle)"/>
<text x="369.7" y="318.7" font-size="8.2" fill="#111" text-anchor="start" font-weight="normal" font-style="normal"  textLength="32.8" lengthAdjust="spacingAndGlyphs" stroke="#111" stroke-width="0.3">SK-CO-1</text>
<text x="369.7" y="343.8" font-size="8.3" fill="#111" text-anchor="start" font-weight="normal" font-style="normal"  textLength="21.5" lengthAdjust="spacingAndGlyphs" stroke="#111" stroke-width="0.3">Gp5D</text>
<line x1="451.6" y1="245.8" x2="451.6" y2="354.6" stroke="#444" stroke-width="1.1" />
<line x1="451.6" y1="354.6" x2="518" y2="354.6" stroke="#444" stroke-width="1.1" />
<line x1="449.2" y1="246.3" x2="451.6" y2="246.3" stroke="#444" stroke-width="1" />
<text x="448.2" y="249.1" font-size="7.7" fill="#1a1a1a" text-anchor="end" font-weight="normal" font-style="normal"  stroke="#1a1a1a" stroke-width="0.3">1.5</text>
<line x1="449.2" y1="282.4" x2="451.6" y2="282.4" stroke="#444" stroke-width="1" />
<text x="448.2" y="285.2" font-size="7.7" fill="#1a1a1a" text-anchor="end" font-weight="normal" font-style="normal"  stroke="#1a1a1a" stroke-width="0.3">1.0</text>
<line x1="449.2" y1="318.5" x2="451.6" y2="318.5" stroke="#444" stroke-width="1" />
<text x="448.2" y="321.3" font-size="7.7" fill="#1a1a1a" text-anchor="end" font-weight="normal" font-style="normal"  stroke="#1a1a1a" stroke-width="0.3">0.5</text>
<line x1="449.2" y1="354.6" x2="451.6" y2="354.6" stroke="#444" stroke-width="1" />
<text x="448.2" y="357.4" font-size="7.7" fill="#1a1a1a" text-anchor="end" font-weight="normal" font-style="normal"  stroke="#1a1a1a" stroke-width="0.3">0.0</text>
<line x1="463.3" y1="354.6" x2="463.3" y2="357.4" stroke="#444" stroke-width="1" />
<line x1="485.4" y1="354.6" x2="485.4" y2="357.4" stroke="#444" stroke-width="1" />
<line x1="507.9" y1="354.6" x2="507.9" y2="357.4" stroke="#444" stroke-width="1" />
<line x1="459.6" y1="282.4" x2="459.6" y2="277.35" stroke="#333" stroke-width="1" />
<line x1="457.7" y1="277.35" x2="461.5" y2="277.35" stroke="#333" stroke-width="1" />
<rect x="456" y="282.4" width="7.2" height="72.2" fill="#3a3a3a" />
<line x1="466.9" y1="282.4" x2="466.9" y2="277.35" stroke="#333" stroke-width="1" />
<line x1="465" y1="277.35" x2="468.8" y2="277.35" stroke="#333" stroke-width="1" />
<rect x="463.2" y="282.4" width="7.4" height="72.2" fill="#9a9a9a" />
<line x1="481.8" y1="330.05" x2="481.8" y2="327.53" stroke="#333" stroke-width="1" />
<line x1="479.9" y1="327.53" x2="483.7" y2="327.53" stroke="#333" stroke-width="1" />
<rect x="478.2" y="330.05" width="7.2" height="24.55" fill="#3a3a3a" />
<line x1="489.1" y1="333.66" x2="489.1" y2="329.33" stroke="#333" stroke-width="1" />
<line x1="487.2" y1="329.33" x2="491" y2="329.33" stroke="#333" stroke-width="1" />
<rect x="485.4" y="333.66" width="7.4" height="20.94" fill="#9a9a9a" />
<line x1="504.25" y1="316.33" x2="504.25" y2="313.45" stroke="#333" stroke-width="1" />
<line x1="502.35" y1="313.45" x2="506.15" y2="313.45" stroke="#333" stroke-width="1" />
<rect x="500.5" y="316.33" width="7.5" height="38.27" fill="#3a3a3a" />
<line x1="512" y1="345.94" x2="512" y2="343.05" stroke="#333" stroke-width="1" />
<line x1="510.1" y1="343.05" x2="513.9" y2="343.05" stroke="#333" stroke-width="1" />
<rect x="508" y="345.94" width="8" height="8.66" fill="#9a9a9a" />
<rect x="459" y="242.3" width="12.7" height="4.1" fill="#3a3a3a" />
<rect x="459" y="250.7" width="12.7" height="4.4" fill="#9a9a9a" />
<text x="477.8" y="246.1" font-size="6.2" fill="#1a1a1a" text-anchor="start" font-weight="normal" font-style="normal"  textLength="24.6" lengthAdjust="spacingAndGlyphs" stroke="#1a1a1a" stroke-width="0.3">SK-CO-1</text>
<text x="477.8" y="254.5" font-size="6.3" fill="#1a1a1a" text-anchor="start" font-weight="normal" font-style="normal"  textLength="16.5" lengthAdjust="spacingAndGlyphs" stroke="#1a1a1a" stroke-width="0.3">Gp5D</text>
<text transform="translate(431.7,299.4) rotate(-90)" font-size="9.7" fill="#1a1a1a" stroke="#1a1a1a" stroke-width="0.3" text-anchor="middle" textLength="109.8" lengthAdjust="spacingAndGlyphs">Relative clonogenic growth</text>
<text transform="translate(465,363.3) rotate(-45)" font-size="8" fill="#1a1a1a" stroke="#1a1a1a" stroke-width="0.3" text-anchor="end">Control</text>
<text transform="translate(487,363.3) rotate(-45)" font-size="8" fill="#1a1a1a" stroke="#1a1a1a" stroke-width="0.3" text-anchor="end">IL1RA</text>
<text transform="translate(509.6,363.3) rotate(-45)" font-size="8" fill="#1a1a1a" stroke="#1a1a1a" stroke-width="0.3" text-anchor="end">CXCL9</text>
</g>
</svg></body></html>
